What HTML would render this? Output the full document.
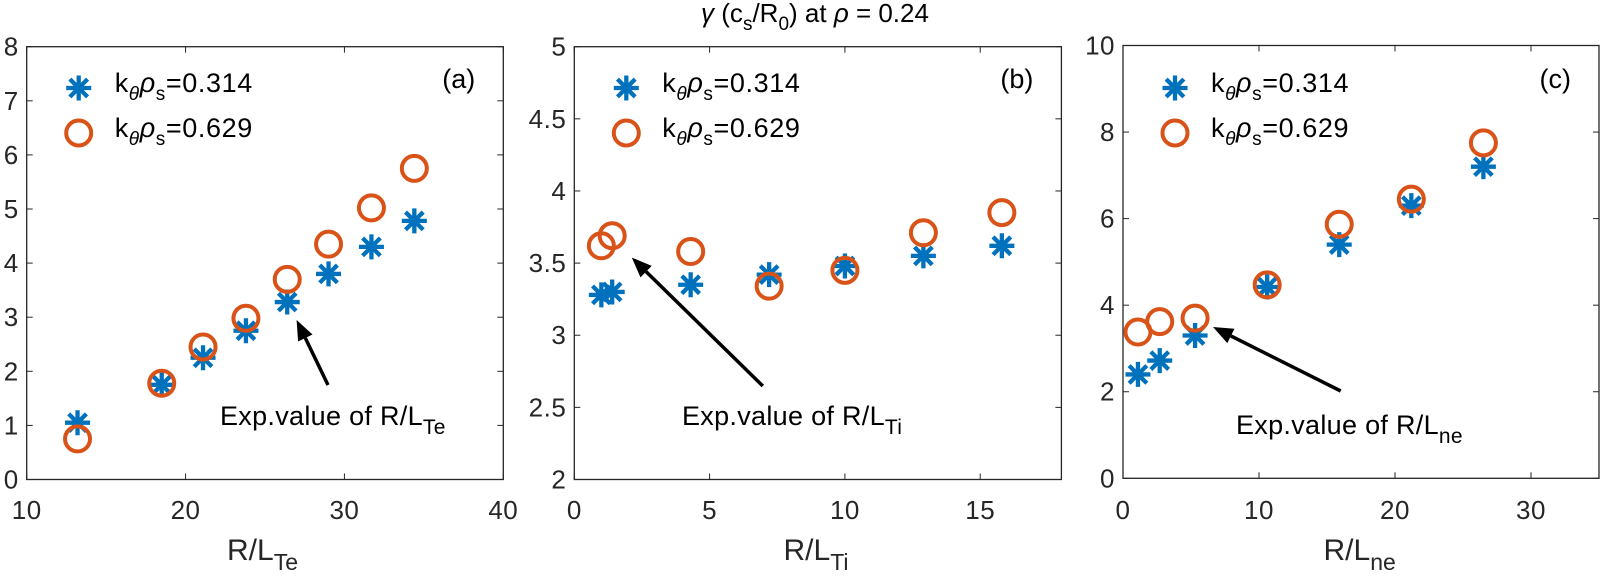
<!DOCTYPE html>
<html><head><meta charset="utf-8"><style>
html,body{margin:0;padding:0;background:#fff;}
svg{display:block;font-family:"Liberation Sans",Arial,sans-serif;}
</style></head><body>
<svg id="s" width="1600" height="577" viewBox="0 0 1600 577" xmlns="http://www.w3.org/2000/svg"></svg>
<script>
const S=document.getElementById('s');let h='';
const P=[
 {L:26.7,R:503.3,T:46.7,B:479.5,x0:10,x1:40,y0:0,y1:8,xt:[10,20,30,40],yt:[0,1,2,3,4,5,6,7,8],lab:'(a)',sub:'Te',
  xs:[13.2,18.5,21.1,23.8,26.4,29,31.7,34.4],st:[1.05,1.75,2.25,2.75,3.28,3.8,4.3,4.78],ci:[0.75,1.78,2.45,2.98,3.7,4.35,5.02,5.75],
  ar:[328,385,296.6,320],tx:220,ty:425,lx:227},
 {L:574.3,R:1061.4,T:46.7,B:479.5,x0:0,x1:18,y0:2,y1:5,xt:[0,5,10,15],yt:[2,2.5,3,3.5,4,4.5,5],lab:'(b)',sub:'Ti',
  xs:[1.0,1.4,4.3,7.2,10.0,12.9,15.8],st:[3.28,3.3,3.35,3.42,3.48,3.55,3.62],ci:[3.62,3.69,3.58,3.34,3.45,3.71,3.85],
  ar:[762.8,386,631.8,257.6],tx:682,ty:425,lx:783.5},
 {L:1123,R:1599,T:45.5,B:478.3,x0:0,x1:35,y0:0,y1:10,xt:[0,10,20,30],yt:[0,2,4,6,8,10],lab:'(c)',sub:'ne',
  xs:[1.1,2.7,5.3,10.6,15.9,21.2,26.5],st:[2.4,2.72,3.3,4.42,5.4,6.3,7.2],ci:[3.38,3.62,3.7,4.47,5.87,6.45,7.75],
  ar:[1340.7,391,1213,327],tx:1236,ty:434,lx:1323.5}
];
function star(x,y){const r=12.5;let d='';for(let i=0;i<4;i++){const a=i*Math.PI/4;d+=`M${x-r*Math.sin(a)} ${y-r*Math.cos(a)}L${x+r*Math.sin(a)} ${y+r*Math.cos(a)}`;}
 return `<path d="${d}" stroke="#0072BD" stroke-width="4.3" fill="none"/>`;}
function circ(x,y){return `<circle cx="${x}" cy="${y}" r="12.5" stroke="#D95319" stroke-width="4" fill="none"/>`;}
P.forEach(p=>{
 const X=v=>p.L+(v-p.x0)/(p.x1-p.x0)*(p.R-p.L), Y=v=>p.B-(v-p.y0)/(p.y1-p.y0)*(p.B-p.T);
 h+=`<rect x="${p.L}" y="${p.T}" width="${p.R-p.L}" height="${p.B-p.T}" fill="none" stroke="#262626" stroke-width="1.3"/>`;
 p.xt.forEach(v=>{const x=X(v);h+=`<line x1="${x}" y1="${p.B}" x2="${x}" y2="${p.B-6}" stroke="#262626"/><line x1="${x}" y1="${p.T}" x2="${x}" y2="${p.T+6}" stroke="#262626"/>`;
  h+=`<text x="${x}" y="519" font-size="26" letter-spacing="0.5" fill="#262626" text-anchor="middle">${v}</text>`;});
 p.yt.forEach(v=>{const y=Y(v);h+=`<line x1="${p.L}" y1="${y}" x2="${p.L+6}" y2="${y}" stroke="#262626"/><line x1="${p.R}" y1="${y}" x2="${p.R-6}" y2="${y}" stroke="#262626"/>`;
  h+=`<text x="${p.L-8}" y="${y+9}" font-size="26" letter-spacing="0.5" fill="#262626" text-anchor="end">${v}</text>`;});
 p.xs.forEach((x,i)=>{h+=star(X(x),Y(p.st[i]));});
 p.xs.forEach((x,i)=>{h+=circ(X(x),Y(p.ci[i]));});
 const lx=p.L+52;
 h+=star(lx,88)+circ(lx,133);
 ['0.314','0.629'].forEach((t,i)=>{h+=`<text x="${lx+36}" y="${92+i*45}" font-size="27" letter-spacing="0.6" fill="#000">k<tspan font-size="19" dy="8" font-style="italic">θ</tspan><tspan dy="-8" font-style="italic">ρ</tspan><tspan font-size="19" dy="8">s</tspan><tspan dy="-8">=${t}</tspan></text>`;});
 h+=`<text x="${p.R-28}" y="88" font-size="27" text-anchor="end">${p.lab}</text>`;
 const [x1,y1,x2,y2]=p.ar;const a=Math.atan2(y2-y1,x2-x1),L=20,W=8;
 const bx=x2-L*Math.cos(a),by=y2-L*Math.sin(a);
 h+=`<line x1="${x1}" y1="${y1}" x2="${bx}" y2="${by}" stroke="#000" stroke-width="3.5"/>`;
 h+=`<path d="M${x2} ${y2}L${bx-W*Math.sin(a)} ${by+W*Math.cos(a)}L${bx+W*Math.sin(a)} ${by-W*Math.cos(a)}Z" fill="#000"/>`;
 h+=`<text x="${p.tx}" y="${p.ty}" font-size="27" letter-spacing="0.3" fill="#000">Exp.value of R/L<tspan font-size="21" dy="9">${p.sub}</tspan></text>`;
 h+=`<text x="${p.lx}" y="560" font-size="30" fill="#262626">R/L<tspan font-size="23" dy="10">${p.sub}</tspan></text>`;
});
h+=`<text x="815" y="22" font-size="26" fill="#000" text-anchor="middle"><tspan font-style="italic">γ</tspan> (c<tspan font-size="19" dy="8">s</tspan><tspan dy="-8">/R</tspan><tspan font-size="19" dy="8">0</tspan><tspan dy="-8">) at </tspan><tspan font-style="italic">ρ</tspan> = 0.24</text>`;
S.innerHTML=h;
</script>
</body></html>
